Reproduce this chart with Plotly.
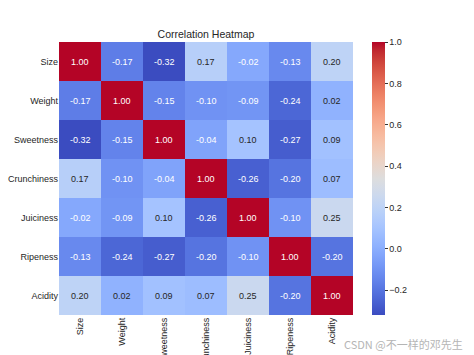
import plotly.graph_objects as go

labels = ["Size", "Weight", "Sweetness", "Crunchiness", "Juiciness", "Ripeness", "Acidity"]
corr = [
    [1.00, -0.17, -0.32, 0.17, -0.02, -0.13, 0.20],
    [-0.17, 1.00, -0.15, -0.10, -0.09, -0.24, 0.02],
    [-0.32, -0.15, 1.00, -0.04, 0.10, -0.27, 0.09],
    [0.17, -0.10, -0.04, 1.00, -0.26, -0.20, 0.07],
    [-0.02, -0.09, 0.10, -0.26, 1.00, -0.10, 0.25],
    [-0.13, -0.24, -0.27, -0.20, -0.10, 1.00, -0.20],
    [0.20, 0.02, 0.09, 0.07, 0.25, -0.20, 1.00],
]
cbar_ticks = [-0.2, 0.0, 0.2, 0.4, 0.6, 0.8, 1.0]
cbar_ticktext = ["\u22120.2", "0.0", "0.2", "0.4", "0.6", "0.8", "1.0"]

coolwarm_rgb = [
    (59, 76, 192), (68, 90, 204), (77, 104, 215), (87, 117, 225), (98, 130, 234),
    (108, 142, 241), (119, 154, 247), (130, 165, 251), (141, 176, 254), (152, 185, 255),
    (163, 194, 255), (174, 201, 253), (184, 208, 249), (194, 213, 244), (204, 217, 238),
    (213, 219, 230), (221, 221, 221), (229, 216, 209), (236, 211, 197), (241, 204, 184),
    (245, 196, 172), (247, 187, 160), (247, 177, 148), (247, 166, 137), (244, 154, 123),
    (241, 141, 111), (236, 127, 99), (229, 112, 89), (222, 96, 77), (213, 80, 66),
    (203, 62, 56), (192, 40, 47), (180, 4, 38),
]
n = len(coolwarm_rgb) - 1
colorscale = [[i / n, "rgb(%d,%d,%d)" % c] for i, c in enumerate(coolwarm_rgb)]

zmin = min(min(r) for r in corr)
zmax = max(max(r) for r in corr)

FONT = "Liberation Sans, Arial"
TXT = "#262626"

fig = go.Figure()
fig.add_trace(go.Heatmap(
    z=corr, x=labels, y=labels, zmin=zmin, zmax=zmax,
    colorscale=colorscale, xgap=0, ygap=0,
    colorbar=dict(
        x=(372 - 59) / 294, xanchor="left", xref="paper", y=0.5, yanchor="middle",
        len=1.0, lenmode="fraction", thickness=13, outlinewidth=0, xpad=0, ypad=0,
        tickvals=cbar_ticks, ticktext=cbar_ticktext,
        ticks="outside", ticklen=3, tickwidth=0.8, tickcolor="#333",
        tickfont=dict(family=FONT, size=9, color=TXT),
    ),
    hoverinfo="skip",
))

annotations = []
for i, row_label in enumerate(labels):
    for j, col_label in enumerate(labels):
        v = corr[i][j]
        dark = 0.015 <= v < 0.6
        annotations.append(dict(
            x=col_label, y=row_label, xref="x", yref="y",
            text="%.2f" % v, showarrow=False,
            font=dict(family=FONT, size=9, color=TXT if dark else "white"),
        ))

annotations.append(dict(
    xref="paper", yref="paper", x=(465 - 59) / 294, y=(315 - 344) / 273,
    xanchor="right", yanchor="middle", text="CSDN @不一样的邓先生",
    showarrow=False,
    font=dict(family="Noto Sans CJK SC", size=11, color="#b5b5b5"),
))

fig.update_layout(
    width=474, height=355,
    margin=dict(l=59, r=121, t=42, b=40),
    paper_bgcolor="white", plot_bgcolor="white",
    title=dict(text="Correlation Heatmap", x=206 / 474, xanchor="center",
               y=1 - 34 / 355, yanchor="middle",
               font=dict(family=FONT, size=10.5, color=TXT)),
    xaxis=dict(tickangle=-90, showgrid=False, zeroline=False, ticks="", automargin=False,
               tickfont=dict(family=FONT, size=9, color=TXT)),
    yaxis=dict(autorange="reversed", showgrid=False, zeroline=False, ticks="", automargin=False,
               tickfont=dict(family=FONT, size=9, color=TXT)),
    annotations=annotations,
)

fig.write_html("out.html", config={"displayModeBar": False},
               post_script="document.body.style.margin='0';document.body.style.overflow='hidden';")
